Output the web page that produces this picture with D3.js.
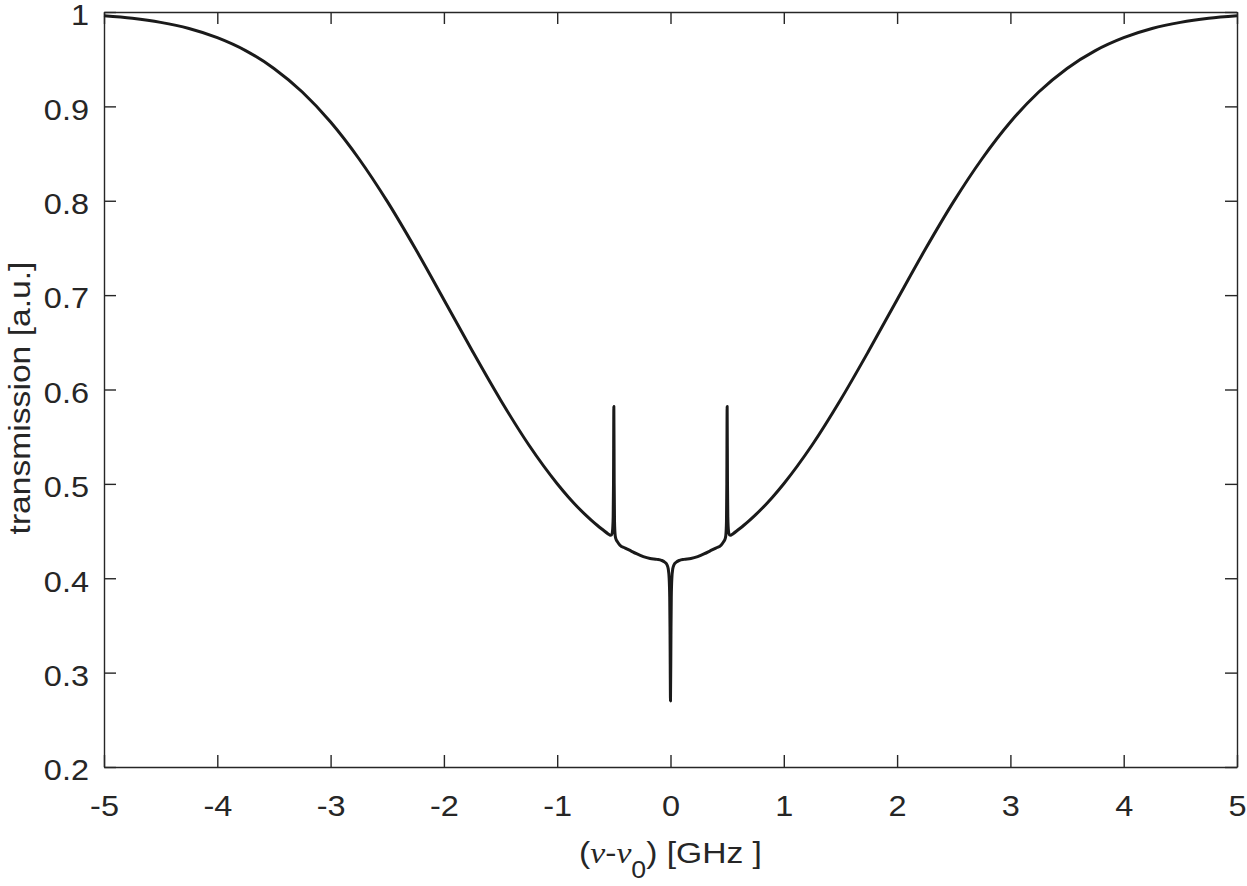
<!DOCTYPE html>
<html>
<head>
<meta charset="utf-8">
<script src="https://cdn.jsdelivr.net/npm/d3@7"></script>
<style>
  html, body { margin: 0; padding: 0; background: #fff; }
  svg text { font-family: "Liberation Sans", Arial, Helvetica, sans-serif; fill: #262626; }
</style>
</head>
<body>
<div id="chart"></div>
<script>
// detuning (GHz) and transmission
const detuning = [
  -5.0, -4.75, -4.5, -4.25, -4.0, -3.75, -3.5, -3.25, -3.0, -2.75, -2.5, -2.25, -2.0, -1.75, -1.5, -1.25,
  -1.0, -0.9, -0.85, -0.75, -0.7, -0.65, -0.6, -0.55, -0.53, -0.52, -0.512, -0.506, -0.503, -0.5, -0.497, -0.494, -0.488, -0.48,
  -0.47, -0.446, -0.4, -0.35, -0.3, -0.24, -0.18, -0.12, -0.08, -0.05, -0.03, -0.02, -0.012, -0.007, -0.004,
  0.0,
  0.004, 0.007, 0.012, 0.02, 0.03, 0.05, 0.08, 0.12, 0.18, 0.24, 0.3, 0.35, 0.4, 0.446, 0.47,
  0.48, 0.488, 0.494, 0.497, 0.5, 0.503, 0.506, 0.512, 0.52, 0.53, 0.55, 0.6, 0.65, 0.7, 0.75, 0.85, 0.9, 1.0,
  1.25, 1.5, 1.75, 2.0, 2.25, 2.5, 2.75, 3.0, 3.25, 3.5, 3.75, 4.0, 4.25, 4.5, 4.75, 5.0
];
const transmission = [
  0.9960, 0.9933, 0.9890, 0.9825, 0.9728, 0.9591, 0.9402, 0.9152, 0.8834, 0.8445, 0.7993, 0.7488, 0.6952, 0.6410, 0.5889, 0.5412,
  0.5002, 0.4859, 0.4793, 0.4671, 0.4616, 0.4564, 0.4516, 0.4470, 0.4455, 0.446, 0.450, 0.465, 0.500, 0.582, 0.500, 0.460, 0.445, 0.441,
  0.439, 0.435, 0.432, 0.429, 0.426, 0.423, 0.421, 0.420, 0.419, 0.417, 0.414, 0.410, 0.400, 0.380, 0.340,
  0.270,
  0.340, 0.380, 0.400, 0.410, 0.414, 0.417, 0.419, 0.420, 0.421, 0.423, 0.426, 0.429, 0.432, 0.435, 0.439,
  0.441, 0.445, 0.460, 0.500, 0.582, 0.500, 0.465, 0.450, 0.446, 0.4455, 0.4470, 0.4516, 0.4564, 0.4616, 0.4671, 0.4793, 0.4859, 0.5002,
  0.5412, 0.5889, 0.6410, 0.6952, 0.7488, 0.7993, 0.8445, 0.8834, 0.9152, 0.9402, 0.9591, 0.9728, 0.9825, 0.9890, 0.9933, 0.9960
];
const xTicks = [-5, -4, -3, -2, -1, 0, 1, 2, 3, 4, 5];
const yTicks = [0.2, 0.3, 0.4, 0.5, 0.6, 0.7, 0.8, 0.9, 1];

const W = 1247, H = 886;
const margin = { top: 12, right: 10, bottom: 119, left: 104 };
const iw = W - margin.left - margin.right;
const ih = H - margin.top - margin.bottom;
const axisColor = "#262626";
const stretch = 1.12; // the original font runs wider than Liberation Sans

const svg = d3.select("#chart").append("svg").attr("width", W).attr("height", H);
const g = svg.append("g").attr("transform", `translate(${margin.left},${margin.top})`);

const x = d3.scaleLinear().domain([-5, 5]).range([0, iw]);
const y = d3.scaleLinear().domain([0.2, 1]).range([ih, 0]);

const points = detuning.map((d, i) => ({ x: d, y: transmission[i] }));

// axes, ticks pointing inward like MATLAB
const xAxis = g.append("g").attr("transform", `translate(0,${ih})`)
  .call(d3.axisBottom(x).tickValues(xTicks).tickSizeInner(-12).tickSizeOuter(0).tickPadding(28).tickFormat(d => String(d)));
const xTop = g.append("g")
  .call(d3.axisTop(x).tickValues(xTicks).tickSizeInner(-12).tickSizeOuter(0).tickFormat(""));
const yAxis = g.append("g")
  .call(d3.axisLeft(y).tickValues(yTicks).tickSizeInner(-12).tickSizeOuter(0).tickPadding(13.4).tickFormat(d => d === 1 ? "1" : d.toFixed(1)));
const yRight = g.append("g").attr("transform", `translate(${iw},0)`)
  .call(d3.axisRight(y).tickValues(yTicks).tickSizeInner(-12).tickSizeOuter(0).tickFormat(""));

[xAxis, xTop, yAxis, yRight].forEach(a => {
  a.selectAll("path.domain").attr("stroke", axisColor).attr("stroke-width", 1.4);
  a.selectAll(".tick line").attr("stroke", axisColor).attr("stroke-width", 1.4);
  a.selectAll(".tick text").attr("font-size", 29).attr("fill", axisColor)
    .attr("font-family", "'Liberation Sans', Arial, Helvetica, sans-serif")
    .attr("transform", `scale(${stretch},1)`);
});
yAxis.selectAll(".tick text").attr("dy", "0.44em");

const line = d3.line().x(d => x(d.x)).y(d => y(d.y)).curve(d3.curveMonotoneX);
g.append("path").datum(points)
  .attr("fill", "none")
  .attr("stroke", "#1a1a1a")
  .attr("stroke-width", 3)
  .attr("stroke-linejoin", "round")
  .attr("d", line);

// axis labels
svg.append("text")
  .attr("transform", `translate(30,398) rotate(-90) scale(1.16,1)`)
  .attr("text-anchor", "middle")
  .attr("font-size", 29)
  .text("transmission [a.u.]");

const xl = svg.append("text")
  .attr("transform", `translate(${margin.left + iw / 2},863) scale(1.16,1)`)
  .attr("text-anchor", "middle")
  .attr("font-size", 29);
xl.append("tspan").text("(");
xl.append("tspan").attr("font-family", "'Liberation Serif', 'DejaVu Serif', serif").attr("font-style", "italic").text("ν");
xl.append("tspan").text("-");
xl.append("tspan").attr("font-family", "'Liberation Serif', 'DejaVu Serif', serif").attr("font-style", "italic").text("ν");
xl.append("tspan").attr("dy", 15).attr("font-size", 23).text("0");
xl.append("tspan").attr("dy", -15).text(") [GHz ]");
</script>
</body>
</html>
